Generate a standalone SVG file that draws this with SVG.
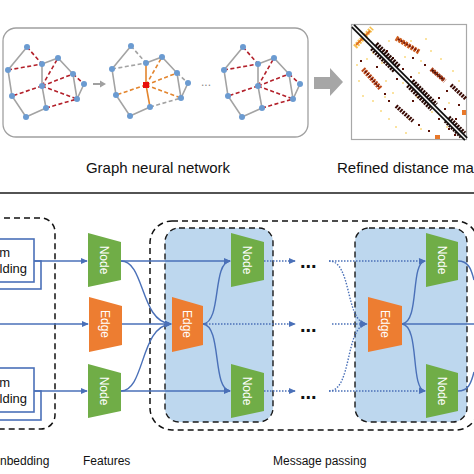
<svg xmlns="http://www.w3.org/2000/svg" xmlns:xlink="http://www.w3.org/1999/xlink" width="474" height="474" viewBox="0 0 474 474">
<defs>
<style>
.t{font-family:"Liberation Sans",Arial,sans-serif;fill:#111}
.lbl{font-family:"Liberation Sans",Arial,sans-serif;fill:#fff;font-size:12px;text-anchor:middle;dominant-baseline:central}
.ge{stroke:#a3a3a3;stroke-width:1.6;fill:none}
.rd{stroke:#b3202a;stroke-width:1.6;stroke-dasharray:4 2.5;fill:none}
.gd{stroke:#a3a3a3;stroke-width:1.6;stroke-dasharray:4 2.5;fill:none}
.od{stroke:#e3852e;stroke-width:1.6;stroke-dasharray:4 2.5;fill:none}
.os{stroke:#e3852e;stroke-width:1.6;fill:none}
.gn{fill:#6b9bd1}
.bl{stroke:#4a70b8;stroke-width:1.4;fill:none}
.dt{stroke:#4a70b8;stroke-width:1.4;stroke-dasharray:1.5 1.5;fill:none}
.dash{fill:none;stroke:#111;stroke-width:1.5;stroke-dasharray:6 4}
.inner{fill:#bdd7ee;stroke:#1a1a1a;stroke-width:1.4;stroke-dasharray:6 4}
.node{fill:#70ad47}
.edge{fill:#ed7d31}
.box{fill:#fff;stroke:#4a70b8;stroke-width:1.6}
.dots{font-family:"Liberation Sans",Arial,sans-serif;font-size:20px;font-weight:bold;fill:#111}
</style>
<marker id="ah" viewBox="0 0 8 8" refX="7" refY="4" markerWidth="7" markerHeight="7" markerUnits="userSpaceOnUse" orient="auto">
<path d="M0,0.5 L8,4 L0,7.5 z" fill="#4a70b8"/>
</marker>
<g id="graphA">
<path class="ge" d="M27,47 L8,70 L12,96 L26,117 L46,108 L42,86 L42,64 L58,58 L73,74 L77,99 L84,84"/>
<path class="rd" d="M27,47 L42,64 M8,70 L42,64 M42,86 L58,58 M42,86 L73,74 M42,86 L77,99 M42,86 L12,96 M46,108 L77,99 M73,74 L84,84"/>
<g class="gn">
<circle cx="27" cy="47" r="3"/><circle cx="8" cy="70" r="3"/><circle cx="42" cy="64" r="3"/><circle cx="58" cy="58" r="3"/><circle cx="73" cy="74" r="3"/><circle cx="84" cy="84" r="3"/><circle cx="42" cy="86" r="3"/><circle cx="12" cy="96" r="3"/><circle cx="77" cy="99" r="3"/><circle cx="46" cy="108" r="3"/><circle cx="26" cy="117" r="3"/>
</g>
</g>
</defs>
<rect width="474" height="474" fill="#fff"/>

<g id="gnn-panel">
<rect x="3" y="28" width="305" height="109" rx="13" fill="#fff" stroke="#a0a0a0" stroke-width="1.3"/>
<use xlink:href="#graphA"/>
<g id="graph2" transform="translate(104,-1)">
<path class="ge" d="M27,47 L8,70 L12,96 L26,117 L46,108 M42,64 L58,58 L73,74 L77,99 L84,84"/>
<path class="os" d="M46,108 L42,86 L42,64"/>
<path class="gd" d="M27,47 L42,64 M8,70 L42,64 M46,108 L77,99 M73,74 L84,84"/>
<path class="od" d="M42,86 L58,58 M42,86 L73,74 M42,86 L77,99 M42,86 L12,96"/>
<g class="gn">
<circle cx="27" cy="47" r="3"/><circle cx="8" cy="70" r="3"/><circle cx="42" cy="64" r="3"/><circle cx="58" cy="58" r="3"/><circle cx="73" cy="74" r="3"/><circle cx="84" cy="84" r="3"/><circle cx="12" cy="96" r="3"/><circle cx="77" cy="99" r="3"/><circle cx="46" cy="108" r="3"/><circle cx="26" cy="117" r="3"/>
</g>
<rect x="39" y="83" width="6" height="6" fill="#e8100c"/>
</g>
<use xlink:href="#graphA" transform="translate(216,0)"/>
<path d="M93,84 H101" stroke="#a0a0a0" stroke-width="2"/>
<path d="M100,80.5 L106,84 L100,87.5 z" fill="#a0a0a0"/>
<text x="201" y="86" font-family="Liberation Sans,Arial,sans-serif" font-size="12" fill="#888">...</text>
</g>

<path d="M314,77 H330 V68 L343,82 L330,96 V89 H314 z" fill="#a6a6a6"/>

<g id="distance-map">
<rect x="351.5" y="24.5" width="115" height="115" fill="#fff" stroke="#a8a8a8" stroke-width="1.2"/>
<g fill="#fbe3a0">
<rect x="360" y="33" width="2" height="2"/><rect x="366" y="58" width="2" height="2"/><rect x="372" y="100" width="2" height="2"/><rect x="380" y="110" width="2" height="2"/><rect x="388" y="118" width="2" height="2"/><rect x="395" y="126" width="2" height="2"/><rect x="405" y="132" width="2" height="2"/><rect x="410" y="40" width="2" height="2"/><rect x="425" y="38" width="2" height="2"/><rect x="440" y="58" width="2" height="2"/><rect x="452" y="70" width="2" height="2"/><rect x="458" y="80" width="2" height="2"/><rect x="385" y="80" width="2" height="2"/><rect x="392" y="92" width="2" height="2"/><rect x="420" y="60" width="2" height="2"/><rect x="358" y="80" width="2" height="2"/><rect x="362" y="95" width="2" height="2"/><rect x="430" y="50" width="2" height="2"/>
<rect x="372" y="52" width="2" height="2"/><rect x="381" y="62" width="2" height="2"/><rect x="402" y="82" width="2" height="2"/><rect x="416" y="96" width="2" height="2"/><rect x="431" y="111" width="2" height="2"/><rect x="446" y="126" width="2" height="2"/><rect x="388" y="40" width="2" height="2"/><rect x="404" y="56" width="2" height="2"/><rect x="418" y="72" width="2" height="2"/><rect x="448" y="102" width="2" height="2"/><rect x="356" y="64" width="2" height="2"/><rect x="384" y="96" width="2" height="2"/><rect x="408" y="118" width="2" height="2"/><rect x="420" y="128" width="2" height="2"/>
</g>
<path d="M355,47 L372,28" stroke="#f6c050" stroke-width="5" stroke-dasharray="2 1"/>
<path d="M356,45 L370,31" stroke="#e07020" stroke-width="1.8"/>
<path d="M396,38 L419,52" stroke="#d06020" stroke-width="5" stroke-dasharray="2.5 1"/>
<path d="M398,39 L418,51" stroke="#7a1808" stroke-width="2.2" stroke-dasharray="2 1.2"/>
<path d="M431,69 L445,81" stroke="#b04018" stroke-width="4.5" stroke-dasharray="2 1"/>
<path d="M432,70 L444,80" stroke="#4a0e06" stroke-width="2.5" stroke-dasharray="2 1"/>
<path d="M451,85 L466,99" stroke="#3a0a04" stroke-width="4" stroke-dasharray="2 1"/>
<path d="M363,69 L381,89" stroke="#c04a18" stroke-width="5" stroke-dasharray="2 1"/>
<path d="M365,71 L379,87" stroke="#6a1408" stroke-width="2" stroke-dasharray="2 1.2"/>
<path d="M396,106 L413,121" stroke="#3a0a04" stroke-width="4" stroke-dasharray="2 1"/>
<rect x="462" y="110" width="4" height="5" fill="#e8782a"/>
<rect x="435" y="135" width="5" height="4" fill="#e8782a"/>
<g fill="#5a1208">
<rect x="372" y="44" width="2" height="2"/><rect x="386" y="50" width="2" height="2"/><rect x="392" y="57" width="2" height="2"/><rect x="402" y="68" width="2" height="2"/><rect x="410" y="76" width="2" height="2"/><rect x="422" y="94" width="2" height="2"/><rect x="438" y="97" width="2" height="2"/><rect x="444" y="108" width="2" height="2"/><rect x="455" y="118" width="2" height="2"/><rect x="448" y="128" width="2" height="2"/><rect x="438" y="118" width="2" height="2"/><rect x="428" y="102" width="2" height="2"/><rect x="396" y="78" width="2" height="2"/><rect x="384" y="93" width="2" height="2"/><rect x="376" y="66" width="2" height="2"/><rect x="418" y="124" width="2" height="2"/><rect x="428" y="130" width="2" height="2"/><rect x="458" y="104" width="2" height="2"/><rect x="446" y="90" width="2" height="2"/><rect x="424" y="64" width="2" height="2"/><rect x="412" y="57" width="2" height="2"/><rect x="360" y="60" width="2" height="2"/><rect x="388" y="100" width="2" height="2"/><rect x="412" y="100" width="2" height="2"/><rect x="454" y="134" width="2" height="2"/>
</g>
<path d="M374,46 L397,69" stroke="#2a0a04" stroke-width="11" stroke-dasharray="2 1"/>
<path d="M410,83 L434,107" stroke="#2a0a04" stroke-width="11" stroke-dasharray="2 1"/>
<path d="M447,119 L463,135" stroke="#2a0a04" stroke-width="9" stroke-dasharray="2 1"/>
<path d="M353,26 L466,139" stroke="#111" stroke-width="5"/>
<path d="M353,26 L466,139" stroke="#fff" stroke-width="1.4"/>
</g>

<text class="t" x="158" y="173" font-size="15" text-anchor="middle">Graph neural network</text>
<text class="t" x="337" y="173" font-size="15">Refined distance map</text>
<path d="M0,193 H474" stroke="#1a1a1a" stroke-width="1.6"/>

<g id="embedding">
<rect class="dash" x="-20" y="218" width="75" height="211" rx="14"/>
<rect class="box" x="-10" y="261" width="51" height="28"/>
<rect class="box" x="-10" y="239" width="44" height="43"/>
<text class="t" x="10" y="257" font-size="13" text-anchor="end">m</text>
<text class="t" x="27" y="273" font-size="13" text-anchor="end">lding</text>
<rect class="box" x="-10" y="391" width="51" height="29"/>
<rect class="box" x="-10" y="368" width="44" height="44"/>
<text class="t" x="10" y="387" font-size="13" text-anchor="end">m</text>
<text class="t" x="27" y="403" font-size="13" text-anchor="end">lding</text>
</g>

<rect class="dash" x="150" y="221" width="328" height="209" rx="22"/>
<rect class="inner" x="165" y="228" width="108" height="194" rx="14"/>
<rect class="inner" x="355" y="228" width="112" height="194" rx="14"/>

<g id="connectors">
<path class="bl" d="M34,261 H87" marker-end="url(#ah)"/>
<path class="bl" d="M0,324 H88" marker-end="url(#ah)"/>
<path class="bl" d="M34,391 H87" marker-end="url(#ah)"/>
<path class="bl" d="M121,261 H230" marker-end="url(#ah)"/>
<path class="bl" d="M121,391 H230" marker-end="url(#ah)"/>
<path class="bl" d="M122,324 H171" marker-end="url(#ah)"/>
<path class="bl" d="M121,261 C145,261 140,322 171,324" marker-end="url(#ah)"/>
<path class="bl" d="M121,391 C145,391 140,326 171,324" marker-end="url(#ah)"/>
<path class="bl" d="M203,324 C222,322 212,263 230,261" marker-end="url(#ah)"/>
<path class="bl" d="M203,324 C222,326 212,389 230,391" marker-end="url(#ah)"/>
<path class="dt" d="M203,324 H295" marker-end="url(#ah)"/>
<path class="dt" d="M264,261 H295" marker-end="url(#ah)"/>
<path class="dt" d="M264,391 H295" marker-end="url(#ah)"/>
<path class="dt" d="M329,261 H425" marker-end="url(#ah)"/>
<path class="dt" d="M332,324 H367" marker-end="url(#ah)"/>
<path class="dt" d="M329,391 H425" marker-end="url(#ah)"/>
<path class="dt" d="M329,261 C352,261 345,320 366,324" marker-end="url(#ah)"/>
<path class="dt" d="M329,391 C352,391 345,328 366,324" marker-end="url(#ah)"/>
<path class="bl" d="M402,324 C420,322 410,263 425,261" marker-end="url(#ah)"/>
<path class="bl" d="M402,324 C420,326 410,389 425,391" marker-end="url(#ah)"/>
<path class="bl" d="M402,324 H474"/>
<path class="bl" d="M458,261 C468,261 471,268 474,280"/>
<path class="bl" d="M458,391 C468,391 471,384 474,372"/>
</g>

<g id="f-node1"><polygon class="node" points="88,233 121,242 121,280 88,287"/><text class="lbl" transform="translate(104,260) rotate(90)">Node</text></g>
<g id="f-edge"><polygon class="edge" points="89,297 122,306 122,345 89,352"/><text class="lbl" transform="translate(105,324) rotate(90)">Edge</text></g>
<g id="f-node2"><polygon class="node" points="88,364 121,373 121,411 88,418"/><text class="lbl" transform="translate(104,391) rotate(90)">Node</text></g>

<g id="m1-edge"><polygon class="edge" points="172,297 203,306 203,345 172,352"/><text class="lbl" transform="translate(187,324) rotate(90)">Edge</text></g>
<g id="m1-node1"><polygon class="node" points="231,233 264,242 264,280 231,287"/><text class="lbl" transform="translate(247,260) rotate(90)">Node</text></g>
<g id="m1-node2"><polygon class="node" points="231,364 264,373 264,411 231,418"/><text class="lbl" transform="translate(247,391) rotate(90)">Node</text></g>

<g id="m2-edge"><polygon class="edge" points="368,297 402,306 402,345 368,352"/><text class="lbl" transform="translate(385,324) rotate(90)">Edge</text></g>
<g id="m2-node1"><polygon class="node" points="426,233 458,242 458,280 426,287"/><text class="lbl" transform="translate(442,260) rotate(90)">Node</text></g>
<g id="m2-node2"><polygon class="node" points="426,364 458,373 458,411 426,418"/><text class="lbl" transform="translate(442,391) rotate(90)">Node</text></g>

<text class="dots" x="300" y="268">...</text>
<text class="dots" x="300" y="332">...</text>
<text class="dots" x="300" y="399">...</text>

<text class="t" x="0" y="465" font-size="12">nbedding</text>
<text class="t" x="83" y="465" font-size="12">Features</text>
<text class="t" x="273" y="465" font-size="12">Message passing</text>
</svg>
